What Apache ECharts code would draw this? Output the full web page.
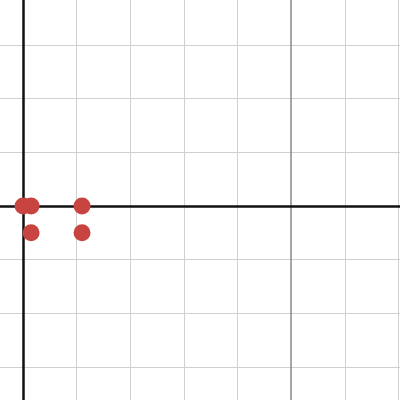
<!DOCTYPE html>
<html>
<head>
<meta charset="utf-8">
<script src="https://cdn.jsdelivr.net/npm/echarts@6/dist/echarts.min.js"></script>
<style>html,body{margin:0;padding:0;background:#fff}#c{width:400px;height:400px}</style>
</head>
<body>
<div id="c"></div>
<script>
// points
var pointsX = [0, 0.15, 1.1, 0.15, 1.1]
var pointsY = [0, 0, 0, -0.5, -0.5]
// grid lines
var minorX = [1, 2, 3, 4, 6, 7]
var majorX = [5]
var minorY = [-3, -2, -1, 1, 2, 3]

var pts = []
for (let i = 0; i < pointsX.length; i++) {
  pts.push([pointsX[i], pointsY[i]])
}

function lines (vals, key, color, width) {
  var out = []
  for (let i = 0; i < vals.length; i++) {
    var d = {}
    d[key] = vals[i]
    d.lineStyle = { color: color, width: width, type: 'solid' }
    out.push(d)
  }
  return out
}

var data = []
  .concat(lines(minorX, 'xAxis', '#d0d0d0', 1))
  .concat(lines(minorY, 'yAxis', '#d0d0d0', 1))
  .concat(lines(majorX, 'xAxis', '#888', 1.5))
  .concat(lines([0], 'xAxis', '#111', 2.5))
  .concat(lines([0], 'yAxis', '#111', 2.5))

var chart = echarts.init(document.getElementById('c'))
chart.setOption({
  animation: false,
  grid: { left: 0, right: 0, top: 0, bottom: 0 },
  xAxis: { type: 'value', min: -0.43, max: 7.03, show: false },
  yAxis: { type: 'value', min: -3.62, max: 3.84, show: false },
  series: [
    {
      type: 'line',
      data: [],
      markLine: { silent: true, symbol: 'none', label: { show: false }, data: data }
    },
    {
      type: 'scatter',
      data: pts,
      symbolSize: 17,
      itemStyle: { color: '#c74440', opacity: 1 },
      z: 10
    }
  ]
})
</script>
</body>
</html>
